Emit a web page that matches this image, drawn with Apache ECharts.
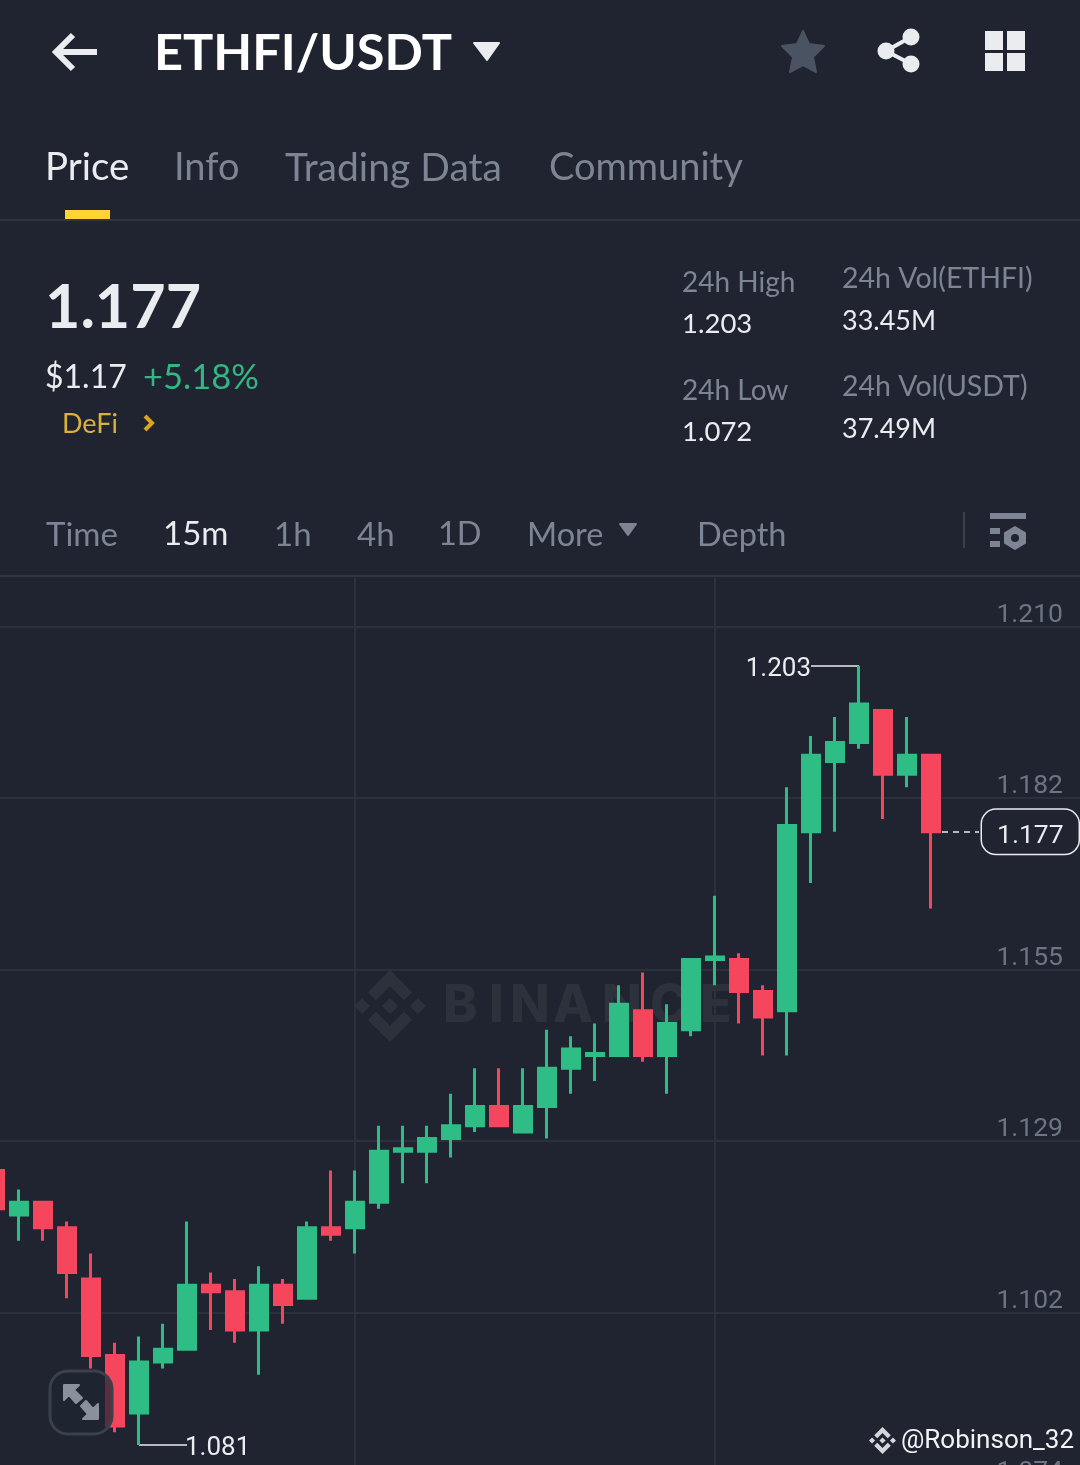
<!DOCTYPE html>
<html>
<head>
<meta charset="utf-8">
<title>ETHFI/USDT</title>
<script src="https://cdn.jsdelivr.net/npm/echarts@6/dist/echarts.min.js"></script>
<style>
html, body { margin: 0; padding: 0; background: #1f2430; }
#chart { width: 1080px; height: 1465px; }
</style>
</head>
<body>
<div id="chart"></div>
<script>
// 15m candles, oldest first
var opens  = [1.124, 1.117, 1.119, 1.115, 1.107, 1.095, 1.086, 1.094, 1.096, 1.106, 1.105, 1.099, 1.106, 1.104, 1.115, 1.115, 1.119, 1.127, 1.127, 1.129, 1.131, 1.134, 1.130, 1.134, 1.140, 1.142, 1.142, 1.149, 1.142, 1.146, 1.157, 1.157, 1.152, 1.149, 1.177, 1.188, 1.191, 1.196, 1.186, 1.189];
var closes = [1.118, 1.119, 1.115, 1.108, 1.095, 1.084, 1.094, 1.096, 1.106, 1.105, 1.099, 1.106, 1.103, 1.115, 1.114, 1.119, 1.127, 1.1274, 1.129, 1.131, 1.134, 1.131, 1.134, 1.140, 1.143, 1.1423, 1.150, 1.142, 1.147, 1.157, 1.1574, 1.152, 1.148, 1.178, 1.189, 1.191, 1.197, 1.186, 1.189, 1.177];
var lows   = [1.118, 1.113, 1.113, 1.104, 1.093, 1.083, 1.081, 1.093, 1.096, 1.099, 1.097, 1.092, 1.100, 1.104, 1.113, 1.111, 1.118, 1.122, 1.122, 1.126, 1.130, 1.131, 1.130, 1.129, 1.136, 1.138, 1.142, 1.141, 1.136, 1.145, 1.153, 1.147, 1.142, 1.142, 1.169, 1.177, 1.190, 1.179, 1.184, 1.165];
var highs  = [1.124, 1.121, 1.119, 1.116, 1.111, 1.097, 1.098, 1.100, 1.116, 1.108, 1.107, 1.109, 1.107, 1.116, 1.124, 1.124, 1.131, 1.131, 1.131, 1.136, 1.140, 1.140, 1.140, 1.146, 1.145, 1.147, 1.153, 1.155, 1.150, 1.157, 1.167, 1.158, 1.153, 1.184, 1.192, 1.195, 1.203, 1.196, 1.195, 1.189];

var gridPrices = [1.2091, 1.1823, 1.1554, 1.1286, 1.1017, 1.0749];
var tickLabels = ['1.210', '1.182', '1.155', '1.129', '1.102', '1.074'];
var priceMin = 1.0749;
var priceMax = 1.2169;

var highMark = 1.203, highIndex = 36;
var lowMark = 1.081, lowIndex = 6;
var lastPrice = 1.177, lastIndex = 39;

var verticalLines = [15, 30];
var categories = [];
for (var c = 0; c < 47; c++) categories.push(String(c));

var candles = opens.map(function (o, i) { return [o, closes[i], lows[i], highs[i]]; });

var BG = '#1f2430', WHITE = '#eaecef', GREY = '#7d8594', LINE = '#30353f';
var UP = '#2ebd85', DOWN = '#f6465d';
var UI = 'Lato', MONO = 'Roboto';

// binance mark, in a 32 unit box
var logoParts = [
    [[9.79, 13.45], [16, 7.24], [22.21, 13.45], [25.82, 9.84], [16, 0], [6.18, 9.84]],
    [[0, 16], [3.61, 12.39], [7.22, 16], [3.61, 19.61]],
    [[9.79, 18.55], [16, 24.76], [22.21, 18.55], [25.83, 22.16], [16, 32], [6.18, 22.18]],
    [[24.78, 16], [28.39, 12.39], [32, 16], [28.39, 19.61]],
    [[19.67, 16], [16, 12.33], [12.33, 16], [16, 19.67]]
];
var watermarkLetters = [['B', 443], ['I', 489], ['N', 510], ['A', 553], ['N', 602], ['C', 650], ['E', 700]];

function label(text, x, y, size, fill, weight, font, z) {
    return {
        type: 'text', z: z || 50,
        style: {
            text: text, x: x, y: y, fill: fill,
            font: (weight || 400) + ' ' + size + 'px "' + (font || UI) + '"',
            align: 'left', verticalAlign: 'middle'
        }
    };
}
function poly(points, fill, z) {
    return { type: 'polygon', z: z || 50, shape: { points: points }, style: { fill: fill, stroke: fill, lineWidth: 2, lineJoin: 'round' } };
}
function rect(x, y, w, h, fill, z) {
    return { type: 'rect', z: z || 50, shape: { x: x, y: y, width: w, height: h }, style: { fill: fill } };
}
function stroke(points, color, w) {
    return { type: 'polyline', z: 50, shape: { points: points }, style: { stroke: color, lineWidth: w, fill: null } };
}
function logo(x, y, size, fill, z) {
    return logoParts.map(function (part) {
        return {
            type: 'polygon', z: z,
            shape: { points: part.map(function (p) { return [x + p[0] * size / 32, y + p[1] * size / 32]; }) },
            style: { fill: fill }
        };
    });
}

var graphics = [
    // header
    stroke([[97, 52], [57, 52]], WHITE, 6),
    stroke([[73, 35], [56, 52], [73, 69]], WHITE, 6),
    label('ETHFI/USDT', 154, 54, 50.5, '#ffffff', 700),
    poly([[474, 43], [499, 43], [487, 60]], WHITE),
    poly([[803, 31], [809, 44], [824, 46], [813, 57], [816, 72], [803, 65], [790, 72], [793, 57], [782, 46], [797, 44]], '#4a5361'),
    { type: 'circle', z: 50, shape: { cx: 886, cy: 51, r: 8.5 }, style: { fill: WHITE } },
    { type: 'circle', z: 50, shape: { cx: 911, cy: 37, r: 8.5 }, style: { fill: WHITE } },
    { type: 'circle', z: 50, shape: { cx: 911, cy: 64, r: 8.5 }, style: { fill: WHITE } },
    stroke([[911, 37], [886, 51], [911, 64]], WHITE, 4),
    rect(985, 31, 18, 19, WHITE), rect(1007, 31, 18, 19, WHITE),
    rect(985, 53, 18, 18, WHITE), rect(1007, 53, 18, 18, WHITE),

    // tabs
    label('Price', 45, 168, 38.5, WHITE),
    label('Info', 174, 168, 38, GREY),
    label('Trading Data', 285, 168, 39, GREY),
    label('Community', 549, 168, 38, GREY),
    rect(65, 210, 45, 9, '#fcd535'),
    rect(0, 219, 1080, 2, LINE),

    // price block
    label('1.177', 45, 308, 61, WHITE, 700),
    label('$1.17', 45, 378, 32, WHITE),
    label('+5.18%', 143, 378, 34.5, '#35b583'),
    label('DeFi', 62, 424, 27, '#d9b23a'),
    stroke([[145, 416], [152, 423], [145, 430]], '#d9a520', 4),

    label('24h High', 682, 283, 28, GREY),
    label('1.203', 682, 324, 27.5, WHITE),
    label('24h Low', 682, 391, 28, GREY),
    label('1.072', 682, 432, 27.5, WHITE),
    label('24h Vol(ETHFI)', 842, 279, 28.5, GREY),
    label('33.45M', 842, 321, 27, WHITE),
    label('24h Vol(USDT)', 842, 387, 28.5, GREY),
    label('37.49M', 842, 429, 27, WHITE),

    // interval row
    label('Time', 46, 535, 33, GREY),
    label('15m', 163, 534, 33, WHITE),
    label('1h', 274, 535, 33, GREY),
    label('4h', 357, 535, 33, GREY),
    label('1D', 438, 535, 32.5, GREY),
    label('More', 527, 536, 32.5, GREY),
    poly([[620, 524], [636, 524], [628, 535]], GREY),
    label('Depth', 697, 536, 32.5, GREY),
    rect(963, 512, 2, 36, '#3b414c'),
    rect(990, 513, 36, 6, GREY),
    rect(990, 528, 10, 6, GREY), rect(990, 541, 10, 6, GREY),
    poly([[1015, 527], [1025, 533], [1025, 543], [1015, 549], [1005, 543], [1005, 533]], GREY),
    { type: 'circle', z: 51, shape: { cx: 1015, cy: 538, r: 4 }, style: { fill: BG } },
    rect(0, 575, 1080, 2, LINE),

    // overlays on the chart
    { type: 'rect', z: 60, shape: { x: 50, y: 1371, width: 62, height: 63, r: 18 }, style: { fill: 'rgba(31,36,48,0.72)', stroke: '#3b414c', lineWidth: 3 } },
    poly([[64, 1385], [79, 1385], [74, 1390], [82, 1398], [76, 1403], [69, 1395], [64, 1400]], '#8a909c', 61),
    poly([[98, 1419], [83, 1419], [88, 1414], [81, 1406], [86, 1401], [93, 1409], [98, 1404]], '#8a909c', 61),
    label('@Robinson_32', 901, 1441, 26, '#f2f3f5', 400, 'Roboto', 60)
].concat(
    logo(354, 970, 72, '#2c313b', 1),
    logo(869, 1427, 27, '#d5d7db', 60),
    watermarkLetters.map(function (l) { return label(l[0], l[1], 1006, 52, '#2c313b', 800, 'Inter', 1); })
);

function tickText(v) { return v.toFixed(3); }

var chart = echarts.init(document.getElementById('chart'));

var option = {
    animation: false,
    backgroundColor: BG,
    grid: { left: -5, right: -19, top: 577, bottom: -19, outerBoundsMode: 'none' },
    xAxis: {
        type: 'category',
        data: categories,
        boundaryGap: false,
        axisLine: { show: false },
        axisTick: { show: false },
        axisLabel: { show: false },
        splitLine: {
            show: true,
            interval: function (index) { return verticalLines.indexOf(index) >= 0; },
            lineStyle: { color: LINE, width: 1.5 }
        }
    },
    yAxis: {
        type: 'value',
        position: 'right',
        min: priceMin,
        max: priceMax,
        scale: true,
        axisLine: { show: false },
        axisTick: { show: false, customValues: gridPrices },
        axisLabel: {
            customValues: gridPrices,
            inside: true,
            margin: 36,
            color: '#6e7582',
            fontFamily: MONO,
            fontSize: 26.5,
            verticalAlign: 'bottom',
            lineHeight: 23,
            formatter: function (value) {
                return tickLabels[gridPrices.indexOf(value)];
            }
        },
        splitLine: { show: true, lineStyle: { color: LINE, width: 1.5 } }
    },
    graphic: graphics,
    series: [{
        type: 'candlestick',
        data: candles,
        barWidth: 18,
        itemStyle: { color: UP, color0: DOWN, borderColor: UP, borderColor0: DOWN, borderWidth: 3 },
        markLine: {
            silent: true,
            z: 1,
            symbol: 'none',
            animation: false,
            data: [
                [
                    { coord: [highIndex, highMark], lineStyle: { color: WHITE, width: 1.5, type: 'solid' } },
                    { coord: [highIndex - 2, highMark], label: { show: true, position: 'end', formatter: tickText(highMark), color: WHITE, fontFamily: MONO, fontSize: 26, distance: 0, offset: [0, 4] } }
                ],
                [
                    { coord: [lowIndex, lowMark], lineStyle: { color: WHITE, width: 1.5, type: 'solid' } },
                    { coord: [lowIndex + 2, lowMark], label: { show: true, position: 'end', formatter: tickText(lowMark), color: WHITE, fontFamily: MONO, fontSize: 26, distance: -2, offset: [0, 3] } }
                ],
                [
                    { coord: [lastIndex, lastPrice], lineStyle: { color: WHITE, width: 1.5, type: [6, 5] } },
                    { coord: [lastIndex + 2, lastPrice], label: {
                        show: true, position: 'end', formatter: '{price|' + tickText(lastPrice) + '}', distance: 3,
                        rich: { price: { color: WHITE, fontFamily: MONO, fontSize: 26.5, padding: [7, 0, 0, 0] } },
                        backgroundColor: BG, borderColor: WHITE, borderWidth: 1.5, borderRadius: 14, padding: [6, 15, 4, 15]
                    } }
                ]
            ]
        }
    }]
};

chart.setOption(option);
</script>
</body>
</html>
